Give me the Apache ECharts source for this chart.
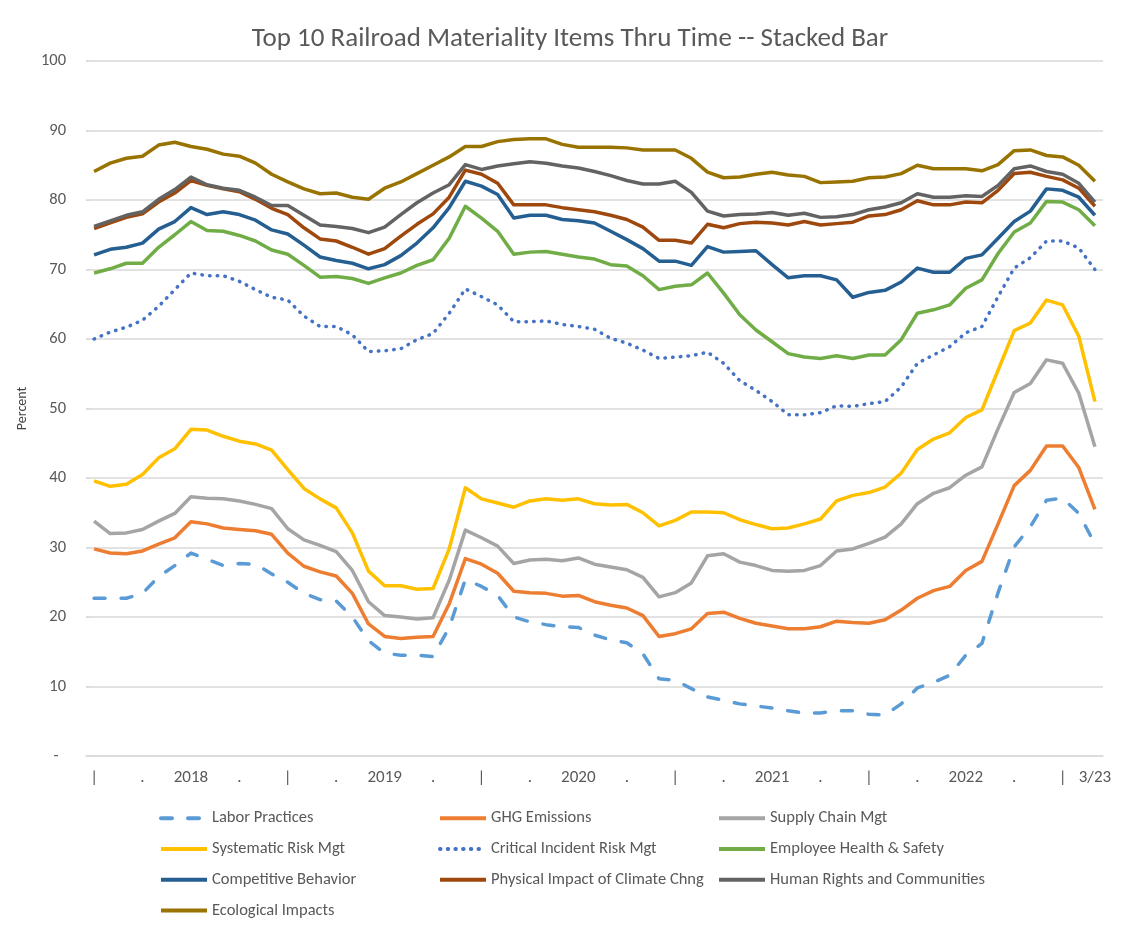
<!DOCTYPE html>
<html>
<head>
<meta charset="utf-8">
<script src="https://cdn.jsdelivr.net/npm/echarts@6/dist/echarts.min.js"></script>
<style>
  html,body{margin:0;padding:0;background:#fff;}
  #chart{width:1140px;height:942px;}
</style>
</head>
<body>
<div id="chart"></div>
<script>
// monthly points, Jan 2018 .. Mar 2023
const months = [];
for (let y = 2018; y <= 2023; y++) {
  for (let m = 1; m <= 12; m++) {
    if (y === 2023 && m > 3) break;
    months.push(y + '-' + (m < 10 ? '0' + m : m));
  }
}

const tickLabels = [
  '|','','','.','','','2018','','','.','','',
  '|','','','.','','','2019','','','.','','',
  '|','','','.','','','2020','','','.','','',
  '|','','','.','','','2021','','','.','','',
  '|','','','.','','','2022','','','.','','',
  '|','','3/23'
];

const laborPractices = [22.7,22.7,22.7,23.4,25.8,27.4,29.2,28.3,27.4,27.7,27.6,26.2,25.0,23.4,22.5,22.3,20.0,16.6,14.8,14.5,14.5,14.3,
  18.5,25.4,24.4,23.1,20.0,19.3,18.9,18.6,18.5,17.4,16.7,16.3,14.7,11.1,10.9,9.7,8.5,8.0,7.5,7.2,6.9,
  6.5,6.2,6.2,6.5,6.5,6.0,5.9,7.5,9.8,10.6,11.6,14.5,16.2,23.5,30.1,33.0,36.8,37.1,34.9,30.5];
const ghgEmissions = [29.8,29.2,29.1,29.5,30.5,31.4,33.7,33.4,32.8,32.6,32.4,31.9,29.2,27.3,26.5,25.9,23.4,19.0,17.2,16.9,17.1,17.2,
  21.9,28.4,27.6,26.3,23.7,23.5,23.4,23.0,23.1,22.2,21.7,21.3,20.2,17.2,17.6,18.3,20.5,20.7,19.8,19.1,18.7,
  18.3,18.3,18.6,19.4,19.2,19.1,19.6,21.0,22.7,23.8,24.4,26.7,28.0,33.4,38.9,41.1,44.6,44.6,41.5,35.5];
const supplyChain = [33.8,32.0,32.1,32.6,33.8,34.9,37.3,37.1,37.0,36.7,36.2,35.6,32.7,31.1,30.3,29.4,26.7,22.2,20.2,20.0,19.7,19.9,
  25.3,32.5,31.4,30.2,27.7,28.2,28.3,28.1,28.5,27.6,27.2,26.8,25.7,22.9,23.5,24.9,28.8,29.1,27.9,27.4,26.7,
  26.6,26.7,27.4,29.5,29.8,30.6,31.5,33.4,36.3,37.8,38.6,40.4,41.6,47.1,52.3,53.6,57.0,56.5,52.2,44.5];
const systematicRisk = [39.6,38.8,39.1,40.5,42.9,44.2,47.0,46.9,46.0,45.3,44.9,44.0,41.2,38.5,37.0,35.7,32.1,26.6,24.5,24.5,24.0,24.1,
  29.8,38.6,37.0,36.4,35.8,36.7,37.0,36.8,37.0,36.3,36.1,36.2,35.0,33.1,33.9,35.1,35.1,35.0,34.0,33.3,32.7,
  32.8,33.4,34.1,36.7,37.5,37.9,38.7,40.7,44.1,45.6,46.5,48.7,49.8,55.5,61.2,62.3,65.6,64.9,60.4,51.0];
const criticalIncident = [60.0,61.0,61.7,62.7,64.7,67.1,69.5,69.1,69.1,68.3,67.1,66.0,65.6,63.3,61.8,61.8,60.6,58.2,58.3,58.6,59.9,60.8,
  63.7,67.2,66.1,64.9,62.5,62.5,62.6,62.1,61.8,61.4,60.1,59.4,58.4,57.2,57.4,57.6,58.1,56.5,54.0,52.6,51.0,
  49.1,49.1,49.4,50.4,50.3,50.7,51.0,53.1,56.5,57.7,58.9,60.9,61.8,66.1,70.2,71.7,74.1,74.1,73.1,70.0];
const employeeHealth = [69.5,70.1,70.9,70.9,73.2,75.0,76.9,75.6,75.5,74.9,74.1,72.8,72.2,70.6,68.9,69.0,68.7,68.0,68.8,69.5,70.6,71.4,
  74.5,79.1,77.4,75.5,72.2,72.5,72.6,72.2,71.8,71.5,70.7,70.5,69.1,67.1,67.6,67.8,69.5,66.6,63.5,61.3,59.6,
  57.9,57.4,57.2,57.6,57.2,57.7,57.7,59.9,63.7,64.2,64.9,67.3,68.5,72.3,75.4,76.7,79.8,79.7,78.6,76.3];
const competitive = [72.1,72.9,73.2,73.8,75.8,76.9,78.9,77.9,78.3,77.9,77.1,75.7,75.1,73.5,71.8,71.3,70.9,70.1,70.7,72.0,73.8,76.0,
  78.9,82.7,82.0,80.8,77.4,77.8,77.8,77.2,77.0,76.7,75.5,74.3,73.0,71.2,71.2,70.6,73.3,72.5,72.6,72.7,70.7,
  68.8,69.1,69.1,68.5,66.0,66.7,67.0,68.2,70.2,69.6,69.6,71.6,72.1,74.5,76.9,78.4,81.6,81.4,80.4,77.8];
const physicalClimate = [75.9,76.7,77.5,78.0,79.7,81.0,82.8,82.1,81.6,81.2,80.1,78.8,77.9,76.0,74.4,74.1,73.2,72.2,73.0,74.8,76.5,78.0,
  80.4,84.3,83.7,82.4,79.3,79.3,79.3,78.9,78.6,78.3,77.8,77.2,76.1,74.2,74.2,73.8,76.5,76.0,76.6,76.8,76.7,
  76.4,76.9,76.4,76.6,76.8,77.7,77.9,78.6,79.9,79.3,79.3,79.7,79.6,81.4,83.8,84.0,83.4,82.9,81.7,79.1];
const humanRights = [76.2,77.0,77.8,78.3,80.1,81.5,83.3,82.2,81.7,81.4,80.4,79.2,79.2,77.8,76.4,76.2,75.9,75.3,76.1,77.9,79.6,81.0,
  82.2,85.1,84.4,84.9,85.2,85.5,85.3,84.9,84.6,84.1,83.5,82.8,82.3,82.3,82.7,81.1,78.4,77.7,77.9,78.0,78.2,
  77.8,78.1,77.5,77.6,77.9,78.6,79.0,79.6,80.9,80.4,80.4,80.6,80.5,82.1,84.5,84.9,84.1,83.7,82.4,79.7];
const ecological = [84.1,85.3,86.0,86.3,87.9,88.3,87.7,87.3,86.6,86.3,85.3,83.7,82.6,81.6,80.9,81.0,80.4,80.1,81.7,82.6,83.8,85.0,
  86.2,87.7,87.7,88.4,88.7,88.8,88.8,88.0,87.6,87.6,87.6,87.5,87.2,87.2,87.2,86.0,84.0,83.2,83.3,83.7,84.0,
  83.6,83.4,82.5,82.6,82.7,83.2,83.3,83.8,85.0,84.5,84.5,84.5,84.2,85.1,87.1,87.2,86.4,86.2,85.0,82.7];

const font = 'Carlito, "Liberation Sans", Arial, sans-serif';
const textGrey = '#595959';

function mkLine(name, data, color, dash) {
  return {
    name: name,
    type: 'line',
    data: data,
    symbol: 'none',
    lineStyle: {
      color: color,
      width: 3.5,
      type: dash || 'solid',
      cap: dash ? 'round' : 'butt',
      join: 'round'
    },
    itemStyle: { color: color }
  };
}

const chart = echarts.init(document.getElementById('chart'));
const option = {
  animation: false,
  backgroundColor: '#fff',
  title: {
    text: 'Top 10 Railroad Materiality Items Thru Time -- Stacked Bar',
    left: 'center',
    top: 21,
    textStyle: { fontFamily: font, fontSize: 27, fontWeight: 'normal', color: textGrey }
  },
  grid: { left: 86, right: 37, top: 61, bottom: 186 },
  legend: {
    left: 159,
    top: 805,
    width: 860,
    padding: 0,
    itemWidth: 46,
    itemHeight: 14,
    itemGap: 4,
    textStyle: { fontFamily: font, fontSize: 16.5, color: textGrey, width: 222, lineHeight: 26.7, overflow: 'none' },
    lineStyle: { width: 4 },
    itemStyle: { opacity: 0 }
  },
  xAxis: {
    type: 'category',
    data: months,
    boundaryGap: true,
    axisLine: { show: true, lineStyle: { color: '#d9d9d9', width: 1.5 } },
    axisTick: { show: false },
    axisLabel: {
      interval: 0,
      margin: 13,
      fontFamily: font,
      fontSize: 17,
      color: textGrey,
      formatter: function (v, idx) { return tickLabels[idx]; }
    }
  },
  yAxis: {
    type: 'value',
    min: 0,
    max: 100,
    interval: 10,
    name: 'Percent',
    nameLocation: 'middle',
    nameGap: 57,
    nameTextStyle: { fontFamily: font, fontSize: 14, color: '#404040' },
    axisLine: { show: false },
    axisTick: { show: true, inside: true, length: 4, lineStyle: { color: '#d9d9d9' } },
    axisLabel: {
      margin: 20,
      fontFamily: font,
      fontSize: 16.5,
      color: textGrey,
      formatter: function (v) { return v === 0 ? '-  ' : v; }
    },
    splitLine: { lineStyle: { color: '#d9d9d9', width: 1.5 } }
  },
  series: [
    mkLine('Labor Practices', laborPractices, '#5B9BD5', [11, 16]),
    mkLine('GHG Emissions', ghgEmissions, '#ED7D31'),
    mkLine('Supply Chain Mgt', supplyChain, '#A5A5A5'),
    mkLine('Systematic Risk Mgt', systematicRisk, '#FFC000'),
    mkLine('Critical Incident Risk Mgt', criticalIncident, '#4472C4', [0.5, 7.2]),
    mkLine('Employee Health & Safety', employeeHealth, '#70AD47'),
    mkLine('Competitive Behavior', competitive, '#255E91'),
    mkLine('Physical Impact of Climate Chng', physicalClimate, '#9E480E'),
    mkLine('Human Rights and Communities', humanRights, '#636363'),
    mkLine('Ecological Impacts', ecological, '#997300')
  ]
};
chart.setOption(option);
</script>
</body>
</html>
